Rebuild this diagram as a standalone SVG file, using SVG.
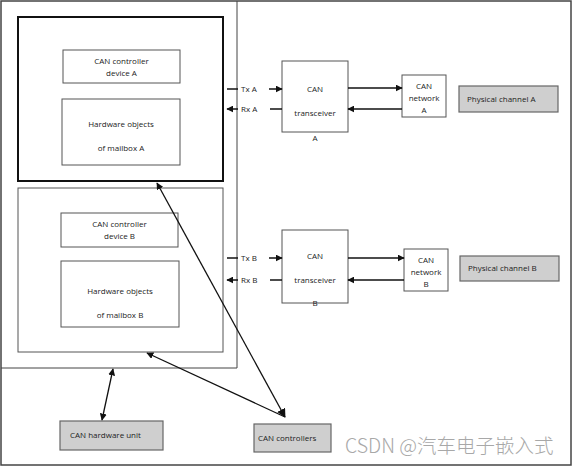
<svg xmlns="http://www.w3.org/2000/svg" width="572" height="467" viewBox="0 0 572 467">
<style>
  text { font-family: "Open Sans", "Liberation Sans", sans-serif; font-size: 8px; fill: #222; }
  .box { fill: #fff; stroke: #555; stroke-width: 1; }
  .thick { fill: #fff; stroke: #111; stroke-width: 2; }
  .gray { fill: #cfcfcf; stroke: #666; stroke-width: 1.2; }
  .ln { stroke: #111; stroke-width: 1.5; fill: none; }
  .conn { stroke: #111; stroke-width: 1.3; fill: none; }
  .mid { text-anchor: middle; }
</style>
<defs>
  <marker id="ah" viewBox="0 0 10 10" refX="9" refY="5" markerWidth="7" markerHeight="7" markerUnits="userSpaceOnUse" orient="auto-start-reverse">
    <path d="M0,0 L10,5 L0,10 z" fill="#111"/>
  </marker>
  <marker id="ahb" viewBox="0 0 10 10" refX="9" refY="5" markerWidth="9" markerHeight="9" markerUnits="userSpaceOnUse" orient="auto-start-reverse">
    <path d="M0,0 L10,5 L0,10 z" fill="#111"/>
  </marker>
</defs>
<rect x="0" y="0" width="572" height="467" fill="#fff"/>
<rect x="1" y="1" width="570" height="464" fill="none" stroke="#444" stroke-width="1.5"/>

<g id="hardware-unit-frame">
  <path d="M1,368 H237 V1" fill="none" stroke="#444" stroke-width="1"/>
</g>

<g id="controller-A">
  <rect class="thick" x="18" y="17" width="205" height="164"/>
  <g id="device-A">
    <rect class="box" x="63" y="50" width="117" height="33"/>
    <text class="mid" x="121.5" y="64">CAN controller</text>
    <text class="mid" x="121.5" y="76">device A</text>
  </g>
  <g id="mailbox-A">
    <rect class="box" x="62" y="99" width="118" height="66"/>
    <text class="mid" x="121" y="127">Hardware objects</text>
    <text class="mid" x="121" y="151">of mailbox A</text>
  </g>
</g>

<g id="controller-B">
  <rect class="box" x="18" y="188" width="205" height="164"/>
  <g id="device-B">
    <rect class="box" x="61" y="213" width="117" height="34"/>
    <text class="mid" x="119.5" y="227">CAN controller</text>
    <text class="mid" x="119.5" y="239">device B</text>
  </g>
  <g id="mailbox-B">
    <rect class="box" x="61" y="261" width="118" height="66"/>
    <text class="mid" x="120" y="294">Hardware objects</text>
    <text class="mid" x="120" y="318">of mailbox B</text>
  </g>
</g>

<g id="transceiver-A">
  <rect class="box" x="282" y="61" width="66" height="71"/>
  <text class="mid" x="315" y="92">CAN</text>
  <text class="mid" x="315" y="116">transceiver</text>
  <text class="mid" x="315" y="141">A</text>
</g>
<g id="network-A">
  <rect class="box" x="402" y="75" width="44" height="42"/>
  <text class="mid" x="424" y="89">CAN</text>
  <text class="mid" x="424" y="101">network</text>
  <text class="mid" x="424" y="113">A</text>
</g>
<g id="channel-A">
  <rect class="gray" x="459" y="86" width="99" height="26"/>
  <text x="467" y="102">Physical channel A</text>
</g>

<g id="transceiver-B">
  <rect class="box" x="282" y="230" width="66" height="73"/>
  <text class="mid" x="315" y="259">CAN</text>
  <text class="mid" x="315" y="283">transceiver</text>
  <text class="mid" x="315" y="306">B</text>
</g>
<g id="network-B">
  <rect class="box" x="404" y="249" width="44" height="42"/>
  <text class="mid" x="426" y="263">CAN</text>
  <text class="mid" x="426" y="275">network</text>
  <text class="mid" x="426" y="287">B</text>
</g>
<g id="channel-B">
  <rect class="gray" x="460" y="256" width="99" height="25"/>
  <text x="468" y="271">Physical channel B</text>
</g>

<g id="hardware-unit">
  <rect class="gray" x="60" y="421" width="103" height="29"/>
  <text x="70" y="438">CAN hardware unit</text>
</g>
<g id="controllers">
  <rect class="gray" x="254" y="424" width="77" height="28"/>
  <text x="258" y="441">CAN controllers</text>
</g>

<g id="labels">
  <text x="241" y="92">Tx A</text>
  <text x="241" y="112">Rx A</text>
  <text x="241" y="261">Tx B</text>
  <text x="241" y="283">Rx B</text>
</g>

<g id="connectors">
  <line class="ln" x1="227" y1="89" x2="238" y2="89"/>
  <line class="ln" x1="269" y1="89" x2="282" y2="89" marker-end="url(#ah)"/>
  <line class="ln" x1="238" y1="109" x2="227" y2="109" marker-end="url(#ah)"/>
  <line class="ln" x1="270" y1="109" x2="282" y2="109"/>
  <line class="ln" x1="348" y1="88" x2="402" y2="88" marker-end="url(#ah)"/>
  <line class="ln" x1="402" y1="109" x2="348" y2="109" marker-end="url(#ah)"/>

  <line class="ln" x1="227" y1="258" x2="238" y2="258"/>
  <line class="ln" x1="269" y1="258" x2="282" y2="258" marker-end="url(#ah)"/>
  <line class="ln" x1="238" y1="280" x2="227" y2="280" marker-end="url(#ah)"/>
  <line class="ln" x1="270" y1="280" x2="282" y2="280"/>
  <line class="ln" x1="348" y1="258" x2="404" y2="258" marker-end="url(#ah)"/>
  <line class="ln" x1="404" y1="280" x2="348" y2="280" marker-end="url(#ah)"/>

  <line class="conn" x1="102" y1="420" x2="113" y2="369" marker-start="url(#ah)" marker-end="url(#ah)"/>
  <line class="conn" x1="285" y1="417" x2="157" y2="183" marker-start="url(#ahb)" marker-end="url(#ah)"/>
  <line class="conn" x1="285" y1="417" x2="147" y2="353" marker-end="url(#ah)"/>
</g>

<text x="345" y="453" style="font-family: 'Noto Sans CJK SC', 'Noto Sans', sans-serif; font-size: 19.5px; font-weight: 300; fill: #a8a8a8;">CSDN @汽车电子嵌入式</text>
</svg>
